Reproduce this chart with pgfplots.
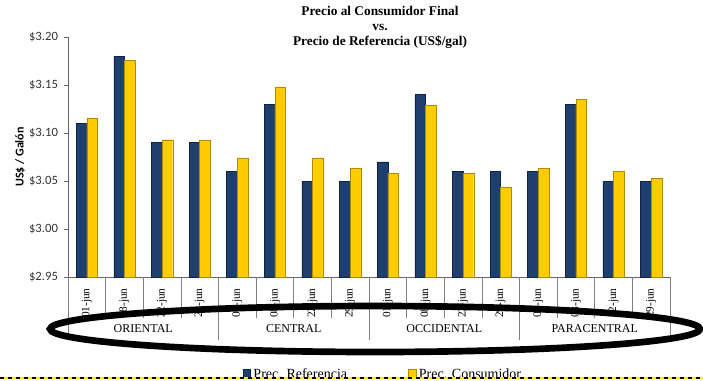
\documentclass[border=0pt]{standalone}
\usepackage{pgfplots}
\pgfplotsset{compat=1.18}
\usepackage{pgfplotstable}
\usepackage{fontspec}
\setmainfont{Liberation Serif}
\newfontfamily\sans{Carlito}
\definecolor{refblue}{HTML}{1F3F6E}
\definecolor{refedge}{HTML}{0F2445}
\definecolor{conyel}{HTML}{FFCC00}
\definecolor{conedge}{HTML}{B08A00}
\newcommand{\px}{*0.75pt}
\pgfplotstableread{
x ref cons
0 3.110 3.115
1 3.180 3.176
2 3.090 3.093
3 3.090 3.092
4 3.060 3.074
5 3.130 3.148
6 3.050 3.074
7 3.050 3.063
8 3.070 3.058
9 3.140 3.129
10 3.060 3.058
11 3.060 3.044
12 3.060 3.063
13 3.130 3.135
14 3.050 3.060
15 3.050 3.053
}\datatable
\begin{document}
\begin{tikzpicture}
\useasboundingbox (0,0) rectangle (703\px,380\px);
\begin{axis}[
  at={(51pt,77.25pt)}, anchor=south west,
  width=451.5pt, height=180pt, scale only axis,
  xmin=-0.5, xmax=15.5, ymin=2.95, ymax=3.20,
  ybar=0pt, bar width=8pt,
  axis x line*=bottom, axis y line*=left,
  axis line style={draw=black!60},
  ytick={2.95,3.00,3.05,3.10,3.15,3.20},
  yticklabels={\$2.95,\$3.00,\$3.05,\$3.10,\$3.15,\$3.20},
  yticklabel style={font=\sans\fontsize{9.5}{10}\selectfont, text=black!80, xshift=-1pt},
  ytick style={draw=black!60}, tick align=outside, major tick length=3pt,
  xtick={0,...,15},
  xticklabels={01-jun,08-jun,22-jun,29-jun,01-jun,08-jun,22-jun,29-jun,01-jun,08-jun,22-jun,29-jun,01-jun,08-jun,22-jun,29-jun},
  xticklabel style={rotate=90, anchor=east, font=\fontsize{8.5}{9}\selectfont, xshift=-2pt},
  xtick style={draw=none},
  clip=false,
  legend columns=2,
  legend style={at={(0.524,-0.405)}, anchor=center, draw=none, fill=none,
    font=\fontsize{10.5}{11}\selectfont, /tikz/every even column/.append style={column sep=44pt}},
  legend image code/.code={\fill[#1] (0,-0.25em) rectangle (0.55em,0.4em);},
]
\addplot[fill=refblue, draw=refedge, line width=0.3pt] table[x=x,y=ref]{\datatable};
\addlegendentry{Prec. Referencia}
\addplot[fill=conyel, draw=conedge, line width=0.3pt] table[x=x,y=cons]{\datatable};
\addlegendentry{Prec. Consumidor}
\pgfplotsinvokeforeach{0.5,1.5,2.5,4.5,5.5,6.5,8.5,9.5,10.5,12.5,13.5,14.5}{
  \draw[black!50] (axis cs:#1,2.95) -- (axis cs:#1,2.9073);
}
\pgfplotsinvokeforeach{-0.5,3.5,7.5,11.5,15.5}{
  \draw[black!50] (axis cs:#1,2.95) -- (axis cs:#1,2.8844);
}
\node[font=\fontsize{9}{10}\selectfont] at (axis cs:1.5,2.8958) {ORIENTAL};
\node[font=\fontsize{9}{10}\selectfont] at (axis cs:5.5,2.8958) {CENTRAL};
\node[font=\fontsize{9}{10}\selectfont] at (axis cs:9.5,2.8958) {OCCIDENTAL};
\node[font=\fontsize{9}{10}\selectfont] at (axis cs:13.5,2.8958) {PARACENTRAL};
\end{axis}
\draw[line width=5pt] (375\px,51\px) ellipse [x radius=325\px, y radius=23\px];
\node[align=center, font=\bfseries\fontsize{10}{11.25}\selectfont] at (380\px,353\px)
  {Precio al Consumidor Final\\vs.\\Precio de Referencia (US\$/gal)};
\node[rotate=90, font=\sans\bfseries\fontsize{9}{10}\selectfont] at (20\px,223\px) {US\$ / Galón};
\draw[yellow!90!orange, line width=0.8pt] (0,2\px) -- (703\px,2\px);
\draw[black, dashed, line width=0.8pt] (0,2\px) -- (703\px,2\px);
\end{tikzpicture}
\end{document}
